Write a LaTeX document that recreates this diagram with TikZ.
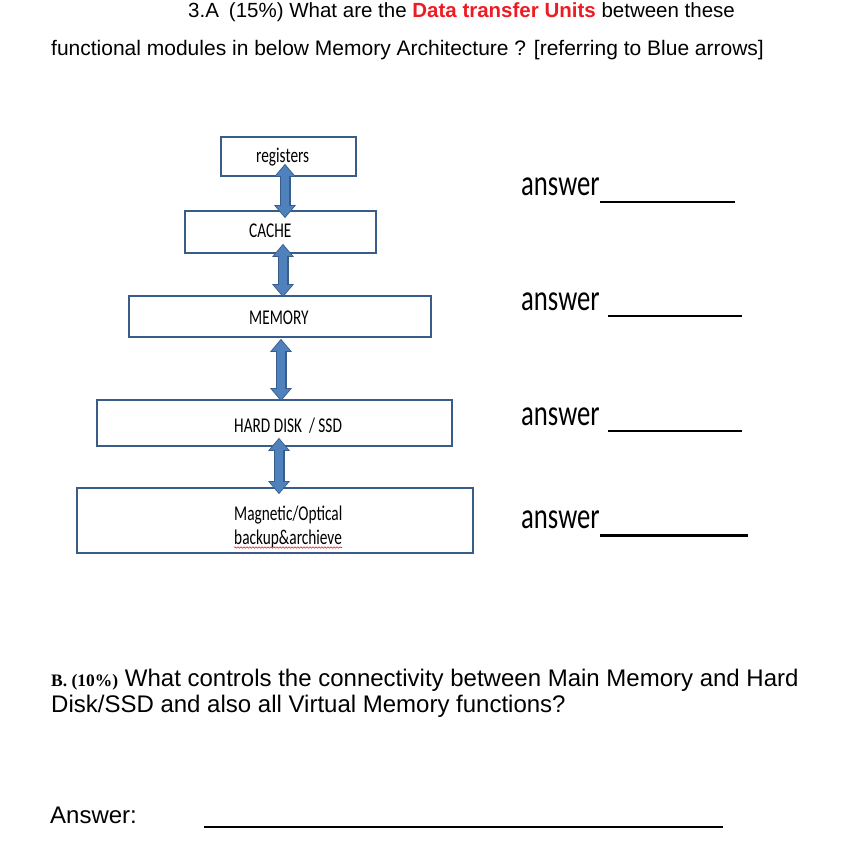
\documentclass[tikz,border=0pt]{standalone}
\usepackage{fontspec}
\setmainfont{Liberation Sans}
\newfontfamily\calfont[FakeStretch=0.73]{Carlito}
\newfontfamily\timesfont{Liberation Serif}
\usetikzlibrary{arrows.meta,decorations.pathmorphing}
\definecolor{boxblue}{RGB}{56,93,138}
\definecolor{arrowblue}{RGB}{79,129,189}
\definecolor{hotred}{RGB}{237,28,36}

\begin{document}
\begin{tikzpicture}[x=1pt,y=-1pt,
  question/.style={anchor=base west,inner sep=0pt,font=\fontsize{21}{24}\selectfont},
  partb/.style={anchor=base west,inner sep=0pt,font=\fontsize{24}{28}\selectfont},
  unit/.style={draw=boxblue,line width=1.8pt,inner sep=0pt},
  unitlabel/.style={anchor=base west,inner sep=0pt,font=\calfont\fontsize{21}{24}\selectfont},
  answer/.style={anchor=base west,inner sep=0pt,font=\calfont\fontsize{36.5}{40}\selectfont},
  rimarrow/.style={draw=boxblue,line width=11pt,
    {Triangle[width=22pt,length=13pt,line width=0pt]}-{Triangle[width=22pt,length=13pt,line width=0pt]}},
  bodyarrow/.style={draw=arrowblue,line width=8pt,shorten <=1.4pt,shorten >=1.4pt,
    {Triangle[width=18pt,length=10.5pt,line width=0pt]}-{Triangle[width=18pt,length=10.5pt,line width=0pt]}}]
  \useasboundingbox (0,0) rectangle (852,866);

  % question A
  \node[question,font=\fontsize{20.5}{24}\selectfont] (qa1) at (188,18) {3.A\hspace{10pt}(15\%) What are the \textcolor{hotred}{\textbf{Data transfer Units}} between these};
  \node[question] (qa2) at (51,56) {functional modules in below Memory Architecture ? [referring to Blue arrows]};

  % memory levels
  \node[unit,minimum width=135pt,minimum height=39pt] (reg) at (288.5,156.5) {};
  \node[unit,minimum width=191pt,minimum height=42pt] (cache) at (280.5,232) {};
  \node[unit,minimum width=302pt,minimum height=41pt] (mem) at (280,316.5) {};
  \node[unit,minimum width=355pt,minimum height=46pt] (disk) at (274.5,423) {};
  \node[unit,minimum width=396pt,minimum height=65pt] (magn) at (275,520.5) {};

  \foreach \from/\to/\fx/\fy/\tx/\ty in {reg/cache/-3.5/13/4.5/-8, cache/mem/2.5/10/3/-2,
      mem/disk/1/-1/6.5/-2, disk/magn/4.5/9/4/-7} {
    \draw[rimarrow] ([xshift=\fx,yshift=\fy]\from.south) -- ([xshift=\tx,yshift=\ty]\to.north);
    \draw[bodyarrow] ([xshift=\fx,yshift=\fy]\from.south) -- ([xshift=\tx,yshift=\ty]\to.north);
  }

  \node[unitlabel] (reglbl) at (256,163) {registers};
  \node[unitlabel] (cachelbl) at (249,238) {CACHE};
  \node[unitlabel] (memlbl) at (249,324) {MEMORY};
  \node[unitlabel] (disklbl) at (234,432) {HARD DISK\ \ / SSD};
  \node[unitlabel] (magnlbl) at (234,520) {Magnetic/Optical};
  \node[unitlabel] (backlbl) at (234,544) {backup\&archieve};
  \draw[hotred,line width=0.6pt,decorate,decoration={snake,amplitude=0.7pt,segment length=3pt}]
    ([yshift=-3.5pt]backlbl.base west) -- ([yshift=-3.5pt]backlbl.base east);

  \node[answer] (ans1) at (521,196) {answer\rule[-7.2pt]{135pt}{2.4pt}};
  \node[answer] (ans2) at (521,310) {answer\hspace{8pt}\rule[-7.2pt]{134pt}{2.4pt}};
  \node[answer] (ans3) at (521,425) {answer\hspace{8pt}\rule[-7.2pt]{134pt}{2.4pt}};
  \node[answer] (ans4) at (521,528) {answer\rule[-8.7pt]{148pt}{2.4pt}};

  % question B
  \node[partb] (qb1) at (51,686) {{\timesfont\bfseries\fontsize{17.5}{20}\selectfont B. (10\%)} What controls the connectivity between Main Memory and Hard};
  \node[partb] (qb2) at (51,712) {Disk/SSD and also all Virtual Memory functions?};
  \node[partb] (ansb) at (50,823) {Answer:};
  \draw[line width=2.5pt] ([xshift=67pt,yshift=-4pt]ansb.base east) -- ++(519,0);
\end{tikzpicture}
\end{document}
